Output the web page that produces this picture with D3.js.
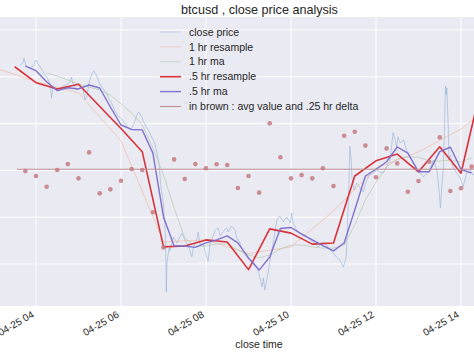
<!DOCTYPE html>
<html><head><meta charset="utf-8">
<script src="https://cdn.jsdelivr.net/npm/d3@7"></script>
<style>
body{margin:0;background:#fff}
text{font-family:"Liberation Sans",Arial,sans-serif;fill:#262626}
</style>
</head><body>
<svg id="c" width="474" height="355"></svg>
<script>
// ---------------- data ----------------
const title = "btcusd , close price analysis";
const xLabel = "close time";
const xTickTimes = ["04:00","06:00","08:00","10:00","12:00","14:00"];
const xTickLabels = ["04-25 04","04-25 06","04-25 08","04-25 10","04-25 12","04-25 14"];
const yGridValues = [8600, 8800, 9000, 9200, 9400, 9600];
const legendLabels = ["close price","1 hr resample","1 hr ma",".5 hr resample",".5 hr ma","in brown : avg value and .25 hr delta"];

const closeTimes = ["03:37","03:42","03:43","03:46","03:51","03:56","04:00","04:03","04:07","04:10",
"04:16","04:20","04:22","04:24","04:29","04:34","04:38","04:43","04:48","04:50",
"04:52","04:57","05:02","05:06","05:09","05:12","05:15","05:19","05:22","05:25",
"05:28","05:30","05:35","05:40","05:44","05:49","05:51","05:56","06:01","06:06",
"06:10","06:13","06:17","06:20","06:23","06:25","06:29","06:32","06:36","06:40",
"06:43","06:47","06:50","06:54","06:56","07:00","07:02","07:03","07:04","07:05",
"07:08","07:09","07:14","07:19","07:22","07:26","07:30","07:35","07:37","07:40",
"07:42","07:47","07:49","07:52","07:56","07:59","08:01","08:03","08:06","08:08",
"08:13","08:17","08:20","08:24","08:29","08:31","08:36","08:41","08:43","08:48",
"08:50","08:55","09:00","09:04","09:07","09:12","09:16","09:19","09:21","09:23",
"09:26","09:30","09:35","09:40","09:44","09:49","09:54","09:59","10:01","10:03",
"10:08","10:13","10:20","10:27","10:34","10:38","10:46","10:50","10:55","11:00",
"11:04","11:09","11:14","11:18","11:19","11:22","11:23","11:25","11:26","11:29",
"11:33","11:37","11:42","11:47","11:51","11:56","12:01","12:06","12:10","12:15",
"12:20","12:24","12:27","12:29","12:31","12:34","12:39","12:43","12:48","12:53",
"12:57","13:02","13:07","13:12","13:16","13:21","13:26","13:29","13:31","13:33",
"13:35","13:37","13:38","13:39","13:40","13:42","13:43","13:45","13:49","13:54",
"13:59","14:03","14:08","14:13","14:17","14:21"];
const closePrices = [9446,9463,9480,9446,9438,9446,9472,9455,9438,9421,
9395,9369,9309,9352,9344,9352,9361,9365,9378,9399,
9374,9344,9352,9356,9301,9318,9378,9412,9425,9408,
9386,9369,9348,9327,9301,9275,9254,9232,9220,9198,
9181,9173,9190,9215,9241,9250,9232,9207,9185,9164,
9143,9121,9087,9023,8938,8852,8767,8690,8480,8609,
8668,8656,8715,8690,8711,8732,8703,8677,8660,8630,
8668,8703,8737,8677,8686,8651,8630,8613,8694,8703,
8745,8754,8720,8737,8754,8737,8762,8745,8715,8690,
8673,8639,8621,8613,8609,8587,8544,8502,8540,8489,
8532,8609,8690,8788,8805,8780,8801,8775,8818,8775,
8745,8732,8724,8703,8690,8673,8694,8681,8660,8647,
8630,8617,8587,8630,8715,8959,9104,9044,8972,8916,
8946,8929,8908,8959,8980,8989,9002,8993,8989,9015,
9044,9160,9130,9100,9143,9117,9130,9087,9057,9032,
9002,8989,8972,8989,9002,9044,9002,8916,8839,8938,
9002,9215,9361,9322,9352,9185,9044,9066,9010,8989,
8968,8929,8989,9002,8980,8993];

const hr1Times = ["03:00","04:00","05:00","06:00","07:00","08:00","09:00","10:00","11:00","12:00","13:00","14:00","15:00"];
const hr1Resample = [9440,9379,9331,9126,8695,8703,8645,8673,8827,9010,9079,9177,9314];

const ma1Times = ["04:15","04:30","04:45","05:00","05:15","05:30","05:45","06:00","06:15","06:30",
"06:45","07:00","07:15","07:30","07:45","08:00","08:15","08:30","08:45","09:00",
"09:15","09:30","09:45","10:00","10:15","10:30","10:45","11:00","11:15","11:30",
"11:45","12:00","12:15","12:30","12:45","13:00","13:15","13:30","13:45","14:00","14:15"];
const hr1Ma = [9416,9403,9386,9369,9356,9344,9322,9284,9245,9194,
9096,8980,8839,8711,8677,8677,8686,8686,8660,8639,
8626,8639,8664,8681,8681,8673,8668,8668,8681,8767,
8874,8950,9015,9049,9057,9057,9040,9040,9044,9036,9053];

const hr05Times = ["03:30","04:00","04:30","05:00","05:30","06:00","06:30","07:00","07:30","08:00",
"08:30","09:00","09:30","10:00","10:30","11:00","11:30","12:00","12:30","13:00","13:30","14:00","14:30"];
const hr05Resample = [9443,9375,9348,9368,9273,9179,9080,8673,8677,8703,
8694,8576,8750,8732,8685,8690,8976,9041,9070,8994,9101,8988,9378];

const q15Times = ["03:45","04:00","04:15","04:30","04:45","05:00","05:15","05:30","05:45","06:00",
"06:15","06:30","06:45","07:00","07:15","07:30","07:45","08:00","08:15","08:30",
"08:45","09:00","09:15","09:30","09:45","10:00","10:15","10:30","10:45","11:00",
"11:15","11:30","11:45","12:00","12:15","12:30","12:45","13:00","13:15","13:30",
"13:45","14:00","14:15"];
const hr05Ma = [9446,9426,9379,9341,9353,9348,9365,9352,9271,9194,
9175,9173,9074,8801,8677,8677,8671,8690,8703,8720,
8690,8626,8574,8630,8752,8756,8728,8703,8679,8656,
8690,8831,8976,9005,9037,9100,9074,8994,8994,9080,
9099,9005,8988];
const delta15 = [8997,8976,8930,9002,9027,8966,9077,8902,8919,8956,
9006,9002,8821,8671,9047,8963,9027,9009,9026,9023,
8925,8976,8905,9201,9056,8966,8980,8966,9009,8933,
9148,9165,9106,8971,9094,9030,8909,8955,9037,9141,
8912,8924,9016];
const avgValue = 9005;
const avgSpan = ["03:33","14:25"];

// ---------------- chart ----------------
const W = 474, H = 355;
const plot = {left: 0, right: 474, top: 17, bottom: 306};
const parse = t => { const [h, m] = t.split(":").map(Number); return new Date(2018, 3, 25, h, m); };

const x = d3.scaleTime().domain([parse("04:00"), parse("14:00")]).range([36, 461]);
const y = d3.scaleLinear().domain([8600, 9600]).range([264, 30]);

const svg = d3.select("#c");
svg.append("rect").attr("x", plot.left).attr("y", plot.top)
  .attr("width", plot.right - plot.left).attr("height", plot.bottom - plot.top)
  .attr("fill", "#EAEAF2");

svg.append("clipPath").attr("id", "clip").append("rect")
  .attr("x", plot.left).attr("y", plot.top)
  .attr("width", plot.right - plot.left).attr("height", plot.bottom - plot.top);

const grid = svg.append("g");
grid.selectAll("line.v").data(xTickTimes).join("line")
  .attr("x1", d => x(parse(d))).attr("x2", d => x(parse(d)))
  .attr("y1", plot.top).attr("y2", plot.bottom)
  .attr("stroke", "#fff").attr("stroke-width", 1);
grid.selectAll("line.h").data(yGridValues).join("line")
  .attr("y1", d => y(d)).attr("y2", d => y(d))
  .attr("x1", plot.left).attr("x2", plot.right)
  .attr("stroke", "#fff").attr("stroke-width", 1);

const g = svg.append("g").attr("clip-path", "url(#clip)");
const line = d3.line().x(d => x(d[0])).y(d => y(d[1]));
const zip = (ts, vs) => ts.map((t, i) => [parse(t), vs[i]]);

const styles = [
  {data: zip(closeTimes, closePrices), color: "#9bb6d8", w: 1, op: 0.65},
  {data: zip(hr1Times, hr1Resample), color: "#f2b49a", w: 1, op: 0.6},
  {data: zip(ma1Times, hr1Ma), color: "#b3cbb0", w: 1, op: 0.7},
  {data: zip(hr05Times, hr05Resample), color: "#d8323a", w: 1.6, op: 1},
  {data: zip(q15Times, hr05Ma), color: "#7a6ccc", w: 1.4, op: 0.95},
];
styles.forEach(s => {
  g.append("path").attr("d", line(s.data)).attr("fill", "none")
    .attr("stroke", s.color).attr("stroke-width", s.w).attr("stroke-opacity", s.op)
    .attr("stroke-linejoin", "round");
});
const avgColor = "#bf8f95";
g.append("line")
  .attr("x1", x(parse(avgSpan[0]))).attr("x2", x(parse(avgSpan[1])))
  .attr("y1", y(avgValue)).attr("y2", y(avgValue))
  .attr("stroke", avgColor).attr("stroke-width", 1.1);
g.selectAll("circle").data(zip(q15Times, delta15)).join("circle")
  .attr("cx", d => x(d[0])).attr("cy", d => y(d[1])).attr("r", 2.3)
  .attr("fill", "#c47a80").attr("fill-opacity", 0.85);

// x tick labels
svg.selectAll("text.tick").data(xTickTimes).join("text")
  .attr("class", "tick")
  .attr("transform", d => `translate(${x(parse(d)) - 5},${plot.bottom + 4}) rotate(-30)`)
  .attr("text-anchor", "end").attr("dy", "0.75em")
  .style("font-size", "10px")
  .text((d, i) => xTickLabels[i]);

svg.append("text").attr("x", 259).attr("y", 348).attr("text-anchor", "middle")
  .style("font-size", "10.5px").text(xLabel);
svg.append("text").attr("x", 259.5).attr("y", 14).attr("text-anchor", "middle")
  .style("font-size", "12.6px").text(title);

// legend
const legColors = [
  {c: "#9bb6d8", w: 1, op: 0.5},
  {c: "#f2b49a", w: 1, op: 0.5},
  {c: "#b3cbb0", w: 1, op: 0.6},
  {c: "#d8323a", w: 1.6, op: 1},
  {c: "#7a6ccc", w: 1.4, op: 0.95},
  {c: avgColor, w: 1.1, op: 1},
];
const leg = svg.append("g");
legendLabels.forEach((lab, i) => {
  const yy = 32 + i * 14.9;
  leg.append("line").attr("x1", 160).attr("x2", 181).attr("y1", yy).attr("y2", yy)
    .attr("stroke", legColors[i].c).attr("stroke-width", legColors[i].w).attr("stroke-opacity", legColors[i].op);
  leg.append("text").attr("x", 189).attr("y", yy).attr("dy", "0.35em")
    .style("font-size", "10.5px").text(lab);
});
</script>
</body></html>
